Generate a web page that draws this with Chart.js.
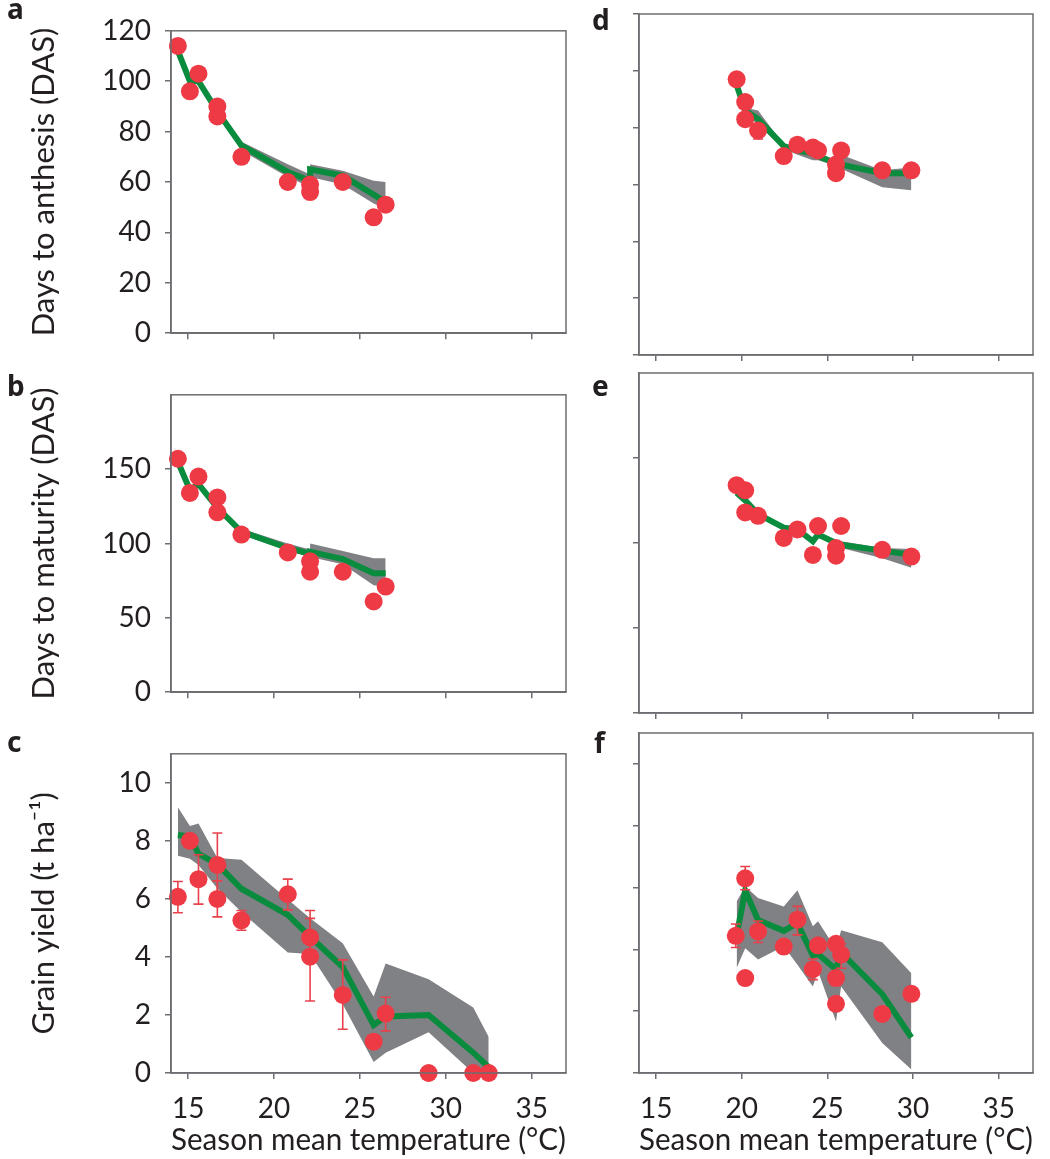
<!DOCTYPE html>
<html>
<head>
<meta charset="utf-8">
<script src="https://cdn.jsdelivr.net/npm/chart.js@4.4.1/dist/chart.umd.min.js"></script>
<style>
  body { margin: 0; background: #fff; width: 1050px; height: 1159px; position: relative; overflow: hidden; }
  canvas { position: absolute; }
  .tag { position: absolute; font: bold 28px 'Noto Sans', sans-serif; color: #231f20; line-height: 1; }
</style>
</head>
<body>
<canvas id="pa" width="600" height="364" style="left:0;top:0"></canvas>
<canvas id="pb" width="600" height="359" style="left:0;top:364px"></canvas>
<canvas id="pc" width="600" height="436" style="left:0;top:723px"></canvas>
<canvas id="pd" width="470" height="364" style="left:580px;top:0"></canvas>
<canvas id="pe" width="470" height="359" style="left:580px;top:364px"></canvas>
<canvas id="pf" width="470" height="436" style="left:580px;top:723px"></canvas>
<div class="tag" style="left:7px;top:-6px">a</div>
<div class="tag" style="left:7px;top:371px">b</div>
<div class="tag" style="left:7px;top:727px">c</div>
<div class="tag" style="left:592px;top:5px">d</div>
<div class="tag" style="left:592px;top:371px">e</div>
<div class="tag" style="left:594px;top:728px">f</div>
<script>
const xTicks = [15, 20, 25, 30, 35];
const anthesisTicks = [0, 20, 40, 60, 80, 100, 120];
const maturityTicks = [0, 50, 100, 150];
const yieldTicks = [0, 2, 4, 6, 8, 10];

// left column (a-c): observed seasons
const tempObsL = [14.4, 15.1, 15.6, 16.7, 16.7, 18.1, 20.8, 22.1, 22.1, 24.0, 25.8, 26.5];
const anthesisObsA = [114, 96, 103, 90, 86, 70, 60, 59, 56, 60, 46, 51];
const maturityObsB = [157, 134, 145, 131, 121, 106, 94, 88, 81, 81, 61, 71];
const tempYieldL = [14.4, 15.1, 15.6, 16.7, 16.7, 18.1, 20.8, 22.1, 22.1, 24.0, 25.8, 26.5, 29.0, 31.6, 32.5];
const yieldObsC = [6.07, 8.0, 6.68, 7.17, 6.0, 5.26, 6.16, 4.67, 4.01, 2.69, 1.08, 2.05, 0, 0, 0];
const yieldLoC = [5.52, 7.8, 5.82, 6.05, 5.38, 4.92, 5.62, 3.9, 2.48, 1.51, null, 1.45, null, null, null];
const yieldHiC = [6.6, 8.15, 7.52, 8.27, 6.62, 5.6, 6.68, 5.6, 5.33, 3.9, null, 2.61, null, null, null];

// left column: simulated mean and range
const tempSimAB = [14.4, 15.1, 15.6, 16.7, 18.1, 20.8, 22.1, 22.1, 24.0, 25.8, 26.5];
const simA = [112, 100, 100, 88, 74.5, 64, 60.5, 65, 62.5, 55, 52];
const simLoA = [111, 99, 99, 87, 72.5, 62, 58, 62, 59, 51.5, 49.5];
const simHiA = [113.5, 101, 101, 89, 76, 67, 63, 67, 64.5, 60.5, 60];
const simB = [155, 136, 140, 124, 108, 97, 93, 94.5, 89.5, 80, 80];
const simLoB = [154, 135, 139, 123, 106, 95, 91, 91, 86, 72, 71];
const simHiB = [156, 137, 141, 125, 110, 100, 96, 100, 95, 90, 90];
const tempSimC = [14.4, 15.1, 15.6, 16.7, 18.1, 20.8, 22.1, 24.0, 25.8, 26.5, 29.0, 31.6, 32.5];
const simC = [8.2, 8.15, 7.55, 7.2, 6.35, 5.45, 4.7, 3.65, 1.65, 1.95, 2.0, 0.7, 0.2];
const simLoC = [7.49, 7.38, 7.17, 6.36, 5.55, 4.15, 4.1, 2.37, 0.38, 0.7, 1.4, 0, 0];
const simHiC = [9.16, 8.51, 8.6, 7.41, 7.35, 5.98, 5.33, 4.47, 2.64, 3.77, 3.23, 2.26, 1.24];

// right column (d-f): observed seasons
const tempObsR = [19.7, 20.2, 20.2, 20.95, 22.45, 23.25, 24.15, 24.45, 25.5, 25.5, 25.8, 28.2, 29.9];
const anthesisObsD = [97, 89, 83, 79, 70, 74, 73, 72, 67, 64, 72, 65, 65];
const anthesisLoD = [null, null, null, 76, null, null, null, null, null, null, null, null, null];
const anthesisHiD = [null, null, null, 80, null, null, null, null, null, null, null, null, null];
const maturityObsE = [134, 131, 118, 116, 103, 108, 93, 110, 97, 92.5, 110, 96, 92];
const tempYieldR = [19.65, 20.2, 20.2, 20.95, 22.45, 23.25, 24.15, 24.45, 25.5, 25.5, 25.5, 25.8, 28.2, 29.9];
const yieldObsF = [4.44, 6.3, 3.07, 4.58, 4.09, 4.96, 3.36, 4.13, 4.18, 3.07, 2.24, 3.83, 1.91, 2.56];
const yieldLoF = [4.06, 5.93, null, 4.22, null, 4.47, 3.02, null, null, null, null, 3.39, null, null];
const yieldHiF = [4.82, 6.68, null, 4.92, null, 5.39, 3.69, null, null, null, null, 4.18, null, null];

// right column: simulated mean and range
const tempSimR = [19.7, 20.2, 20.95, 22.45, 23.25, 24.15, 24.45, 25.5, 25.8, 28.2, 29.9];
const simD = [95, 86, 83, 73.5, 72, 71, 70, 67.5, 67, 64, 64];
const simLoD = [94, 85, 81, 72.5, 70.5, 68.5, 68.5, 66.5, 65.5, 59, 58];
const simHiD = [96, 87, 86, 74, 73.5, 72.5, 71, 68.5, 70.5, 65, 66];
const simE = [129.5, 125, 117, 109, 108, 101, 105, 100, 99, 95.5, 93];
const simLoE = [128.5, 124, 116, 108, 107, 100, 104, 99, 97, 91, 85.5];
const simHiE = [130.5, 126, 118, 110, 109, 102, 106, 101, 101, 97, 96.5];
const simF = [4.45, 5.9, 4.95, 4.6, 4.85, 3.8, 3.85, 3.35, 3.9, 2.55, 1.15];
const simLoF = [3.4, 4.04, 3.67, 4.1, 3.5, 2.8, 3.3, 1.67, 2.8, 0.97, 0.11];
const simHiF = [5.55, 6.03, 5.66, 5.39, 5.91, 4.75, 4.91, 4.0, 4.62, 4.23, 3.23];

const AXIS = '#6d6e71';
const TXT = '#231f20';
const RED = '#ee3a45';
const GREEN = '#0a8c3f';
const GREY = '#808184';
const FONT = 'Lato, sans-serif';

const pts = (xs, ys) => xs.map((x, i) => ({ x: x, y: ys[i] }));

const boxPlugin = {
    id: 'box',
    afterDraw(chart) {
        const { ctx, chartArea: a } = chart;
        ctx.save();
        ctx.strokeStyle = AXIS;
        ctx.lineWidth = 1.5;
        ctx.strokeRect(a.left, a.top, a.right - a.left, a.bottom - a.top);
        ctx.restore();
    }
};

// error bars drawn just before the observed points
const errPlugin = {
    id: 'errbars',
    beforeDatasetDraw(chart, args, opts) {
        if (args.index !== 0 || !opts.lo) return;
        const sx = chart.scales.x, sy = chart.scales.y, ctx = chart.ctx;
        ctx.save();
        ctx.strokeStyle = '#e8414c';
        ctx.lineWidth = 1.6;
        opts.xs.forEach((x, i) => {
            if (opts.lo[i] == null) return;
            const px = sx.getPixelForValue(x);
            const y1 = sy.getPixelForValue(opts.lo[i]);
            const y2 = sy.getPixelForValue(opts.hi[i]);
            ctx.beginPath();
            ctx.moveTo(px, y1); ctx.lineTo(px, y2);
            ctx.moveTo(px - 5, y1); ctx.lineTo(px + 5, y1);
            ctx.moveTo(px - 5, y2); ctx.lineTo(px + 5, y2);
            ctx.stroke();
        });
        ctx.restore();
    }
};

function makePanel(id, p) {
    const grid = { drawOnChartArea: false, drawTicks: true, tickLength: 6, color: AXIS, lineWidth: 1.5 };
    new Chart(document.getElementById(id), {
        type: 'line',
        data: {
            datasets: [
                { data: pts(p.obsX, p.obs), showLine: false, pointRadius: 9, pointHoverRadius: 9,
                  pointBackgroundColor: RED, pointBorderWidth: 0, order: 0, clip: false },
                { data: pts(p.simX, p.sim), borderColor: GREEN, borderWidth: 6, pointRadius: 0,
                  tension: 0, fill: false, order: 1 },
                { data: pts(p.simX, p.lo), borderWidth: 0, pointRadius: 0, fill: false, order: 2 },
                { data: pts(p.simX, p.hi), borderWidth: 0, pointRadius: 0, fill: 2,
                  backgroundColor: GREY, order: 3 }
            ]
        },
        options: {
            responsive: false,
            animation: false,
            events: [],
            layout: { padding: { top: p.top, right: p.right, left: 0, bottom: 0 } },
            plugins: {
                legend: { display: false },
                tooltip: { enabled: false },
                errbars: { xs: p.obsX, lo: p.errLo, hi: p.errHi }
            },
            scales: {
                x: {
                    type: 'linear', min: 14, max: 37,
                    afterBuildTicks: s => { s.ticks = xTicks.map(v => ({ value: v })); },
                    afterFit: s => { s.height = p.xh; },
                    grid: grid,
                    border: { color: AXIS, width: 1.5 },
                    ticks: { display: p.xLabels, color: TXT, font: { family: FONT, size: 28 }, padding: 13, maxRotation: 0, autoSkip: false },
                    title: { display: p.xLabels, text: 'Season mean temperature (°C)', color: TXT,
                             font: { family: FONT, size: 30.5 }, padding: { top: 0, bottom: 1 } }
                },
                y: {
                    min: 0, max: p.ymax,
                    afterBuildTicks: s => { s.ticks = p.yTicks.map(v => ({ value: v })); },
                    afterFit: s => { s.width = p.yw; },
                    grid: grid,
                    border: { color: AXIS, width: 1.5 },
                    ticks: { display: !!p.yTitle, color: TXT, font: { family: FONT, size: 28 }, padding: 14, autoSkip: false },
                    title: { display: !!p.yTitle, text: p.yTitle || '', color: TXT,
                             font: { family: FONT, size: 31 }, padding: { top: 25, bottom: 0 } }
                }
            }
        },
        plugins: [boxPlugin, errPlugin]
    });
}

const L = { yw: 171, right: 34 };
const R = { yw: 59, right: 17 };

makePanel('pa', Object.assign({}, L, { top: 14, xh: 9, xLabels: false, ymax: 120, yTicks: anthesisTicks,
    yTitle: 'Days to anthesis (DAS)', obsX: tempObsL, obs: anthesisObsA,
    simX: tempSimAB, sim: simA, lo: simLoA, hi: simHiA }));
makePanel('pb', Object.assign({}, L, { top: 9, xh: 10, xLabels: false, ymax: 200, yTicks: maturityTicks,
    yTitle: 'Days to maturity (DAS)', obsX: tempObsL, obs: maturityObsB,
    simX: tempSimAB, sim: simB, lo: simLoB, hi: simHiB }));
makePanel('pc', Object.assign({}, L, { top: 10, xh: 86, xLabels: true, ymax: 11, yTicks: yieldTicks,
    yTitle: 'Grain yield (t ha⁻¹)', obsX: tempYieldL, obs: yieldObsC, errLo: yieldLoC, errHi: yieldHiC,
    simX: tempSimC, sim: simC, lo: simLoC, hi: simHiC }));
makePanel('pd', Object.assign({}, R, { top: 14, xh: 9, xLabels: false, ymax: 120, yTicks: anthesisTicks,
    obsX: tempObsR, obs: anthesisObsD, errLo: anthesisLoD, errHi: anthesisHiD,
    simX: tempSimR, sim: simD, lo: simLoD, hi: simHiD }));
makePanel('pe', Object.assign({}, R, { top: 9, xh: 10, xLabels: false, ymax: 200, yTicks: maturityTicks,
    obsX: tempObsR, obs: maturityObsE,
    simX: tempSimR, sim: simE, lo: simLoE, hi: simHiE }));
makePanel('pf', Object.assign({}, R, { top: 10, xh: 86, xLabels: true, ymax: 11, yTicks: yieldTicks,
    obsX: tempYieldR, obs: yieldObsF, errLo: yieldLoF, errHi: yieldHiF,
    simX: tempSimR, sim: simF, lo: simLoF, hi: simHiF }));
</script>
</body>
</html>
